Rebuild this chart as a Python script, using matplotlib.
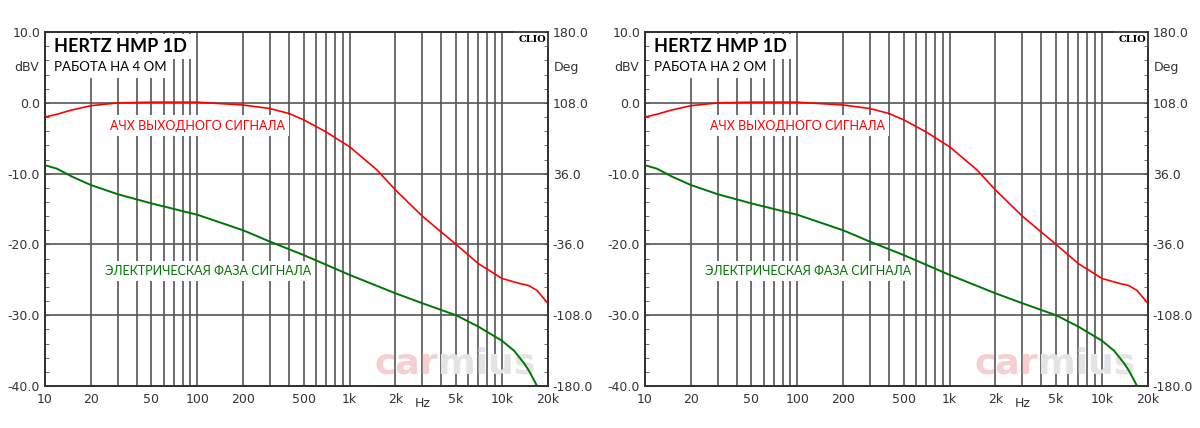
import numpy as np
import matplotlib.pyplot as plt

freq_red = [10, 12, 15, 20, 30, 50, 100, 200, 300, 400, 500, 700, 1000, 1500, 2000, 3000, 5000, 7000, 10000, 13000, 15000, 17000, 20000, 22000]
red_db = [-2.0, -1.6, -1.0, -0.4, 0.0, 0.1, 0.1, -0.3, -0.8, -1.5, -2.4, -4.1, -6.2, -9.4, -12.3, -16.0, -20.0, -22.7, -24.8, -25.5, -25.8, -26.5, -28.3, -29.6]
freq_green = [10, 12, 15, 20, 30, 50, 100, 200, 300, 500, 1000, 2000, 3000, 5000, 7000, 10000, 12000, 14000, 15000, 16000, 17000]
green_db = [-8.8, -9.3, -10.4, -11.6, -12.9, -14.2, -15.8, -18.0, -19.6, -21.5, -24.3, -26.9, -28.3, -30.0, -31.6, -33.6, -35.0, -36.8, -37.8, -38.9, -40.0]
titles = ["РАБОТА НА 4 ОМ", "РАБОТА НА 2 ОМ"]
xticks = [10, 20, 50, 100, 200, 500, 1000, 2000, 5000, 10000, 20000]
xlabels = ["10", "20", "50", "100", "200", "500", "1k", "2k", "5k", "10k", "20k"]
yticks = [10, 0, -10, -20, -30, -40]
deg_labels = ["180.0", "108.0", "36.0", "-36.0", "-108.0", "-180.0"]

fig = plt.figure(figsize=(12, 4.28), dpi=100)
for i, sub in enumerate(titles):
    ax = fig.add_axes([0.0375 + i * 0.5, 0.098, 0.419, 0.827])
    ax.set_xscale('log')
    ax.set_xlim(10, 20000)
    ax.set_ylim(-40, 10)
    for d in [10, 100, 1000, 10000]:
        for m in range(1, 10):
            f = d * m
            if 10 < f < 20000:
                ax.axvline(f, color='#555555', lw=1.2, zorder=1)
    for y in [0, -10, -20, -30]:
        ax.axhline(y, color='#555555', lw=1.2, zorder=1)
    ax.plot(freq_red, red_db, color='#ff0000', lw=1.2, zorder=3)
    ax.plot(freq_green, green_db, color='#007700', lw=1.4, zorder=3)
    ax.set_xticks(xticks)
    ax.set_xticklabels(xlabels, fontsize=9, color='#333333')
    ax.xaxis.set_minor_locator(plt.NullLocator())
    ax.set_yticks(yticks)
    ax.set_yticklabels(["%.1f" % v for v in yticks], fontsize=9, color='#333333')
    ax.set_yticks(np.arange(-40, 10.1, 2), minor=True)
    ax.tick_params(axis='both', which='both', direction='in', length=3, color='#555555')
    ax.tick_params(axis='x', length=0, pad=5)
    ax2 = ax.twinx()
    ax2.set_ylim(-40, 10)
    ax2.set_yticks(yticks)
    ax2.set_yticklabels(deg_labels, fontsize=9, color='#333333')
    ax2.set_yticks(np.arange(-40, 10.1, 2), minor=True)
    ax2.tick_params(axis='y', which='both', direction='in', length=3, color='#555555')
    for a in (ax, ax2):
        for s in a.spines.values():
            s.set_color('#333333')
            s.set_linewidth(1.3)
    ax.text(-0.012, 0.9, "dBV", transform=ax.transAxes, ha='right', va='center', fontsize=9, color='#333333')
    ax2.text(1.012, 0.9, "Deg", transform=ax.transAxes, ha='left', va='center', fontsize=9, color='#333333')
    ax.text(3000, -41.6, "Hz", ha='center', va='top', fontsize=9, color='#333333')
    bb = dict(facecolor='white', edgecolor='none', pad=3)
    ax.text(11.5, 8.0, "HERTZ HMP 1D", fontsize=13, fontweight='bold', fontfamily='Lato', va='center', bbox=bb, zorder=4)
    ax.text(11.5, 5.0, sub, fontsize=9.5, fontfamily='Lato', va='center', bbox=bb, zorder=4)
    ax.text(19500, 9.0, "CLIO", fontsize=7, fontweight='bold', ha='right', va='center', fontfamily='DejaVu Serif', bbox=bb, zorder=4)
    ax.text(100, -3.2, "АЧХ ВЫХОДНОГО СИГНАЛА", color='#ff0000', fontsize=9, fontfamily='Lato', ha='center', va='center', bbox=bb, zorder=4)
    ax.text(117, -23.7, "ЭЛЕКТРИЧЕСКАЯ ФАЗА СИГНАЛА", color='#007700', fontsize=9, fontfamily='Lato', ha='center', va='center', bbox=bb, zorder=4)
    ax.text(3800, -36.8, "car", fontsize=26, fontweight='bold', color='#f6d0d0', ha='right', va='center', zorder=2, clip_on=True)
    ax.text(3800, -36.8, "mius", fontsize=26, fontweight='bold', color='#e4e4e4', ha='left', va='center', zorder=2, clip_on=True)

fig.savefig('out.png', dpi=100)
